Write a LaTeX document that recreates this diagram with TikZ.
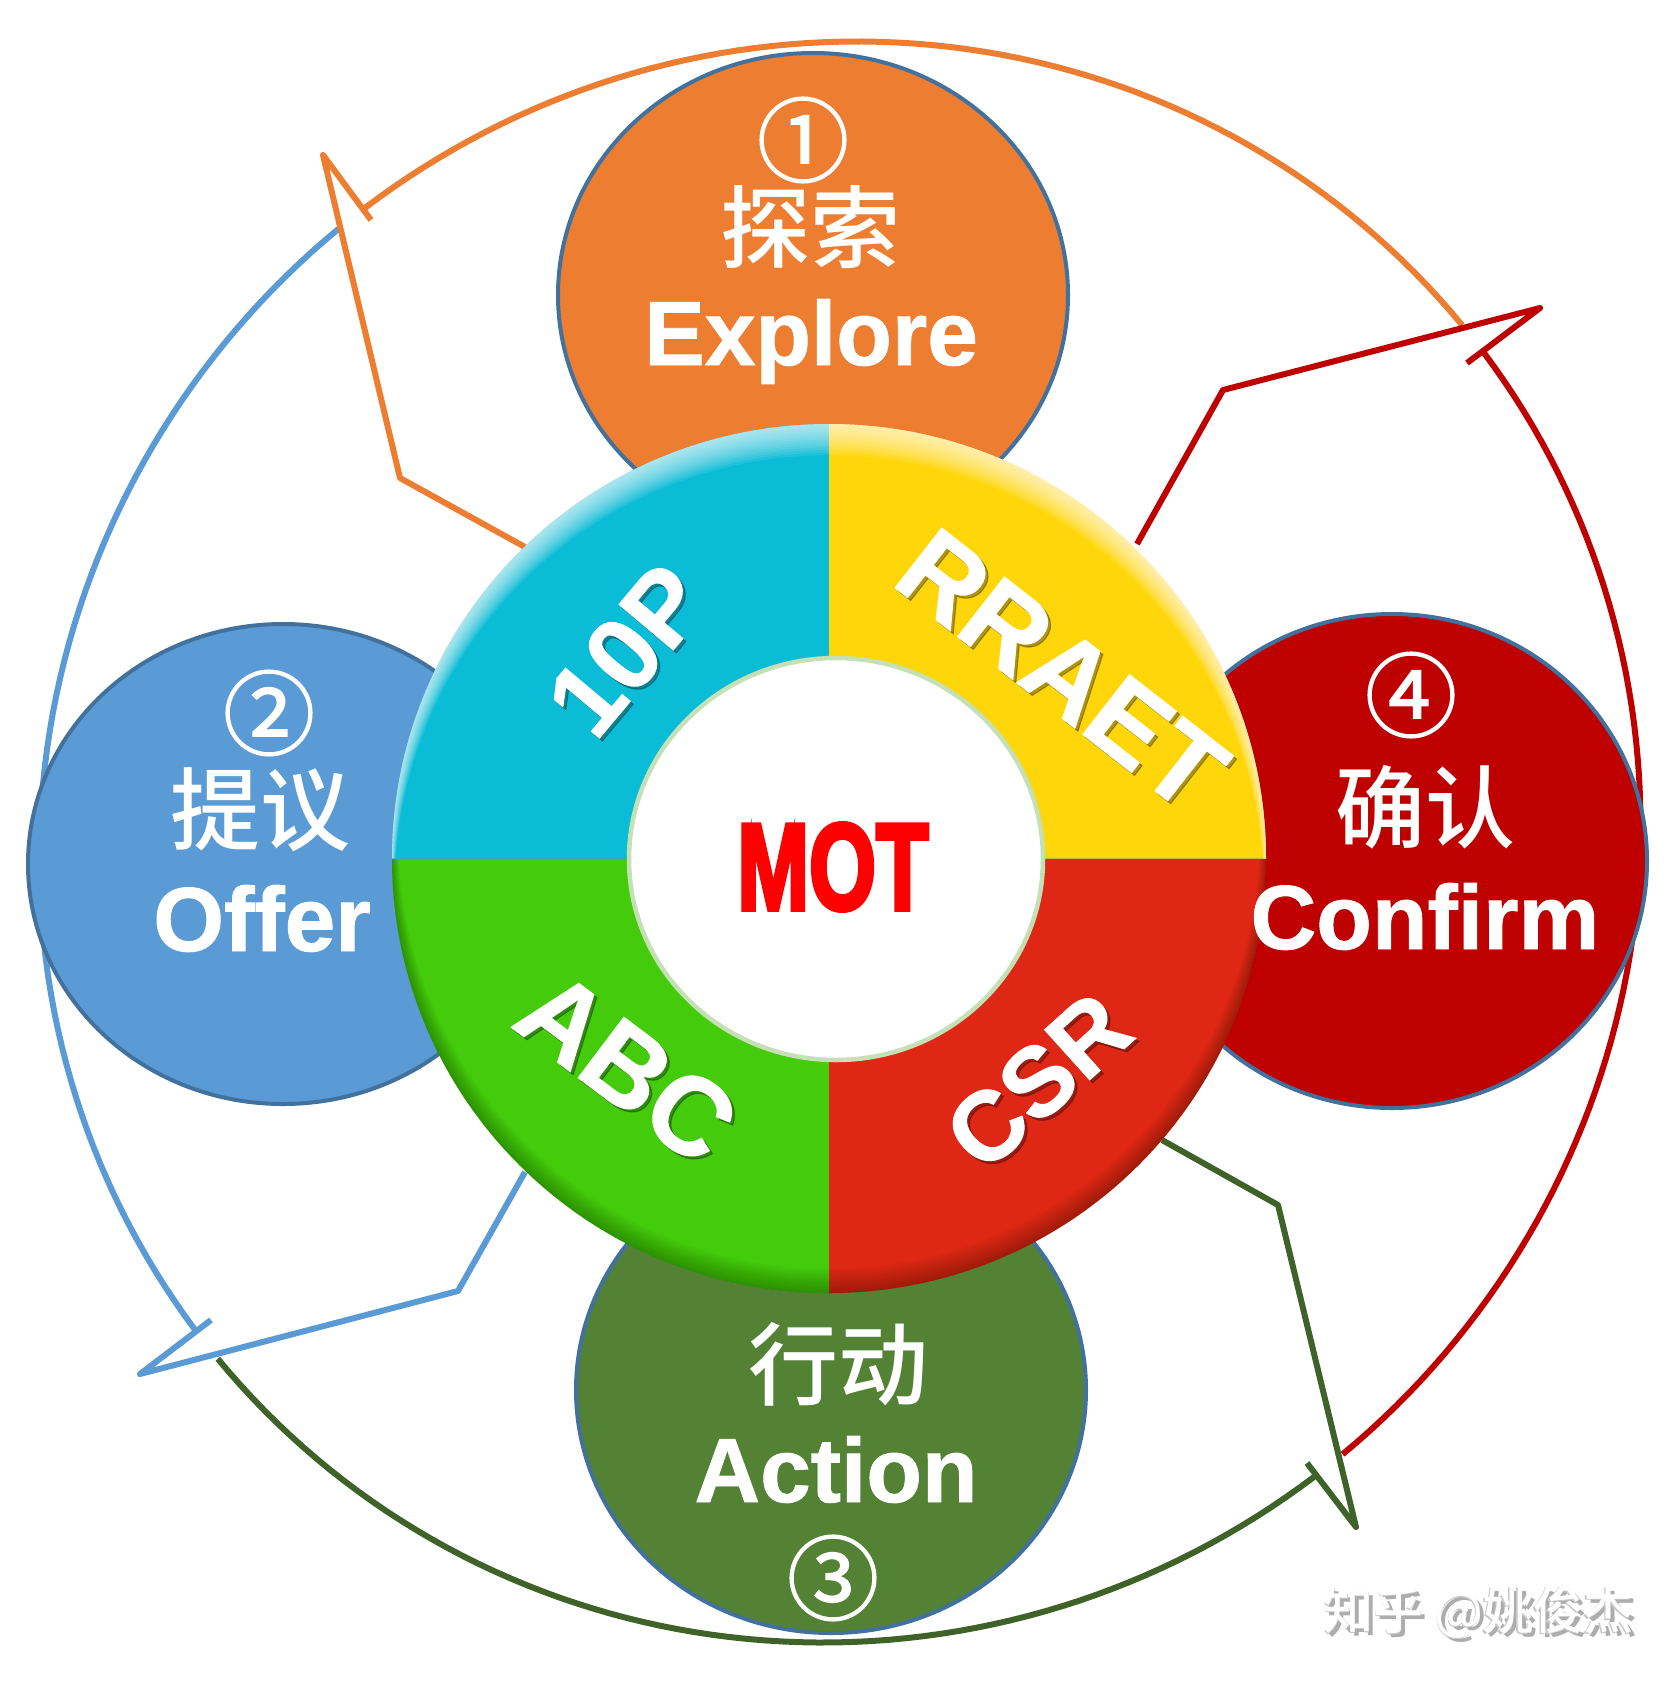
\documentclass[tikz,border=0pt]{standalone}
\usepackage{fontspec}
\setmainfont{Liberation Sans}
\newfontfamily\heavy[FakeBold=1]{Liberation Sans Bold}
\newfontfamily\motfont[FakeBold=4]{Liberation Sans Bold}
\newfontfamily\cjk{Noto Sans CJK SC Medium}
\newfontfamily\cjkring[FakeBold=1.5]{Noto Sans CJK SC}
\newfontfamily\cjkline[FakeBold=2]{Noto Sans CJK SC}
\usetikzlibrary{shapes.geometric}
\definecolor{orangeC}{HTML}{ED7D31}
\definecolor{blueC}{HTML}{5B9BD5}
\definecolor{redC}{HTML}{BE0000}
\definecolor{leafC}{HTML}{548235}
\definecolor{darkleaf}{HTML}{3F6228}
\definecolor{edgeC}{HTML}{41719C}
\definecolor{hubedge}{HTML}{C5E0B4}
\definecolor{ringcyan}{HTML}{0BBCD6}
\definecolor{ringyellow}{HTML}{FFD60A}
\definecolor{ringgreen}{HTML}{44CB0C}
\definecolor{ringred}{HTML}{DF2715}
\tikzset{
  loopline/.style={line width=6pt,line join=round},
  bubble/.style={ellipse,draw=edgeC,line width=4pt,inner sep=0,minimum width=510pt,minimum height=#1},
  bigword/.style={text=white,inner sep=0,anchor=base,font=\fontsize{91}{91}\selectfont\heavy},
  cjkword/.style={text=white,inner sep=0,font=\fontsize{90}{90}\selectfont\cjk},
  numbermark/.style={text=white,inner sep=0,font=\fontsize{92}{92}\selectfont\cjkring},
  ringlabel/.style={text=white,inner sep=0,font=\fontsize{#1}{#1}\selectfont\heavy},
  ringshadow/.style={text=black,opacity=.3,inner sep=0,font=\fontsize{#1}{#1}\selectfont\heavy}
}
\begin{document}
\begin{tikzpicture}[x=1pt,y=-1pt]
\useasboundingbox (0,0) rectangle (1678,1682);
% outer loop, one arc per step
\foreach \arccol/\ta/\tb in {orangeC/-82/5.4,redC/8/95.5,darkleaf/98/185.4,blueC/188/275.6}
  \draw[loopline,\arccol,domain=\ta:\tb,samples=70,variable=\t]
    plot ({840+809*cos(\t)*.7071+792*sin(\t)*.7071},{842-809*cos(\t)*.7071+792*sin(\t)*.7071});
% arrow points
\coordinate (orangestart) at (525,547);
\coordinate (orangebend) at (400,478);
\coordinate (orangetip) at (323,155);
\coordinate (orangebarb) at (371,220);
\coordinate (redstart) at (1137,544);
\coordinate (redbend) at (1223,390);
\coordinate (redtip) at (1540,308);
\coordinate (redbarb) at (1467,363);
\coordinate (greenstart) at (1162,1140);
\coordinate (greenbend) at (1278,1205);
\coordinate (greentip) at (1356,1527);
\coordinate (greenbarb) at (1307,1463);
\coordinate (bluestart) at (525,1172);
\coordinate (bluebend) at (458,1291);
\coordinate (bluetip) at (140,1374);
\coordinate (bluebarb) at (211,1320);
\foreach \arrowname/\arrowcol in {green/darkleaf,blue/blueC,orange/orangeC,red/redC}
  \draw[loopline,\arrowcol] (\arrowname start) -- (\arrowname bend) -- (\arrowname tip) -- (\arrowname barb);
% four bubbles
\node[bubble=484pt,fill=orangeC] (explore) at (813,295) {};
\node[bubble=480pt,fill=blueC] (offer) at (283,864) {};
\node[bubble=494pt,fill=redC] (confirm) at (1392,861) {};
\node[bubble=486pt,fill=leafC] (action) at (831,1390) {};
% ring
\begin{scope}
\clip (829,858.5) ellipse [x radius=437pt,y radius=434.5pt];
\fill[ringcyan] (380,410) rectangle (829,858.5);
\fill[ringyellow] (829,410) rectangle (1280,858.5);
\fill[ringgreen] (380,858.5) rectangle (829,1300);
\fill[ringred] (829,858.5) rectangle (1280,1300);
\begin{scope}
\clip (380,410) rectangle (1280,858.5);
\foreach \i in {1,...,12}
  \fill[white,opacity=.085,even odd rule] (380,410) rectangle (1280,858.5)
    (829,858.5+2.6*\i) ellipse [x radius=437pt-.2pt*\i,y radius=434.5pt];
\end{scope}
\begin{scope}
\clip (380,858.5) rectangle (1280,1300);
\foreach \i in {1,...,12}
  \fill[black,opacity=.022,even odd rule] (380,858.5) rectangle (1280,1300)
    (829,858.5-2*\i) ellipse [x radius=437pt-.5pt*\i,y radius=434.5pt];
\end{scope}
\end{scope}
\node[ellipse,draw=hubedge,fill=white,line width=4.5pt,inner sep=0,minimum width=414pt,minimum height=402pt] (hub) at (836,859) {};
\node[text=red,inner sep=0,transform shape,xscale=.7,font=\fontsize{123}{123}\selectfont\motfont] (mot) at (833,867) {MOT};
% bubble words go over the ring
\node[numbermark] (one) at (803,140) {①};
\node[cjkword] (tansuo) at (810,227) {探索};
\node[bigword] (explorew) at (811,365) {Explore};
\node[numbermark] (two) at (269,713) {②};
\node[cjkword] (tiyi) at (260,810) {提议};
\node[bigword] (offerw) at (262,951) {Offer};
\node[numbermark] (four) at (1411,695) {④};
\node[cjkword] (queren) at (1425,807) {确认};
\node[bigword] (confirmw) at (1425,949) {Confirm};
\node[cjkword] (xingdong) at (838,1364) {行动};
\node[bigword] (actionw) at (836,1502) {Action};
\node[numbermark] (three) at (833,1578) {③};
% ring words, shadow first
\foreach \word/\wx/\wy/\wsize/\wangle in {10P/627/650/103/50,RRAET/1062/670/110/-38,ABC/627/1067/110/-37,CSR/1038/1081/98/42} {
  \node[ringshadow=\wsize,rotate=\wangle] at (\wx+3,\wy+3) {\word};
  \node[ringlabel=\wsize,rotate=\wangle] (\word) at (\wx,\wy) {\word};
}
% watermark
\node[text=black!32,inner sep=0,anchor=west,font=\fontsize{50}{50}\selectfont\cjk] (markshadow) at (1327,1617) {知乎 @姚俊杰};
\node[text=black!22,inner sep=0,anchor=west,font=\fontsize{50}{50}\selectfont\cjkline] (markline) at (1323,1613) {知乎 @姚俊杰};
\node[text=white,inner sep=0,anchor=west,font=\fontsize{50}{50}\selectfont\cjk] (mark) at (1323,1613) {知乎 @姚俊杰};
\end{tikzpicture}
\end{document}
